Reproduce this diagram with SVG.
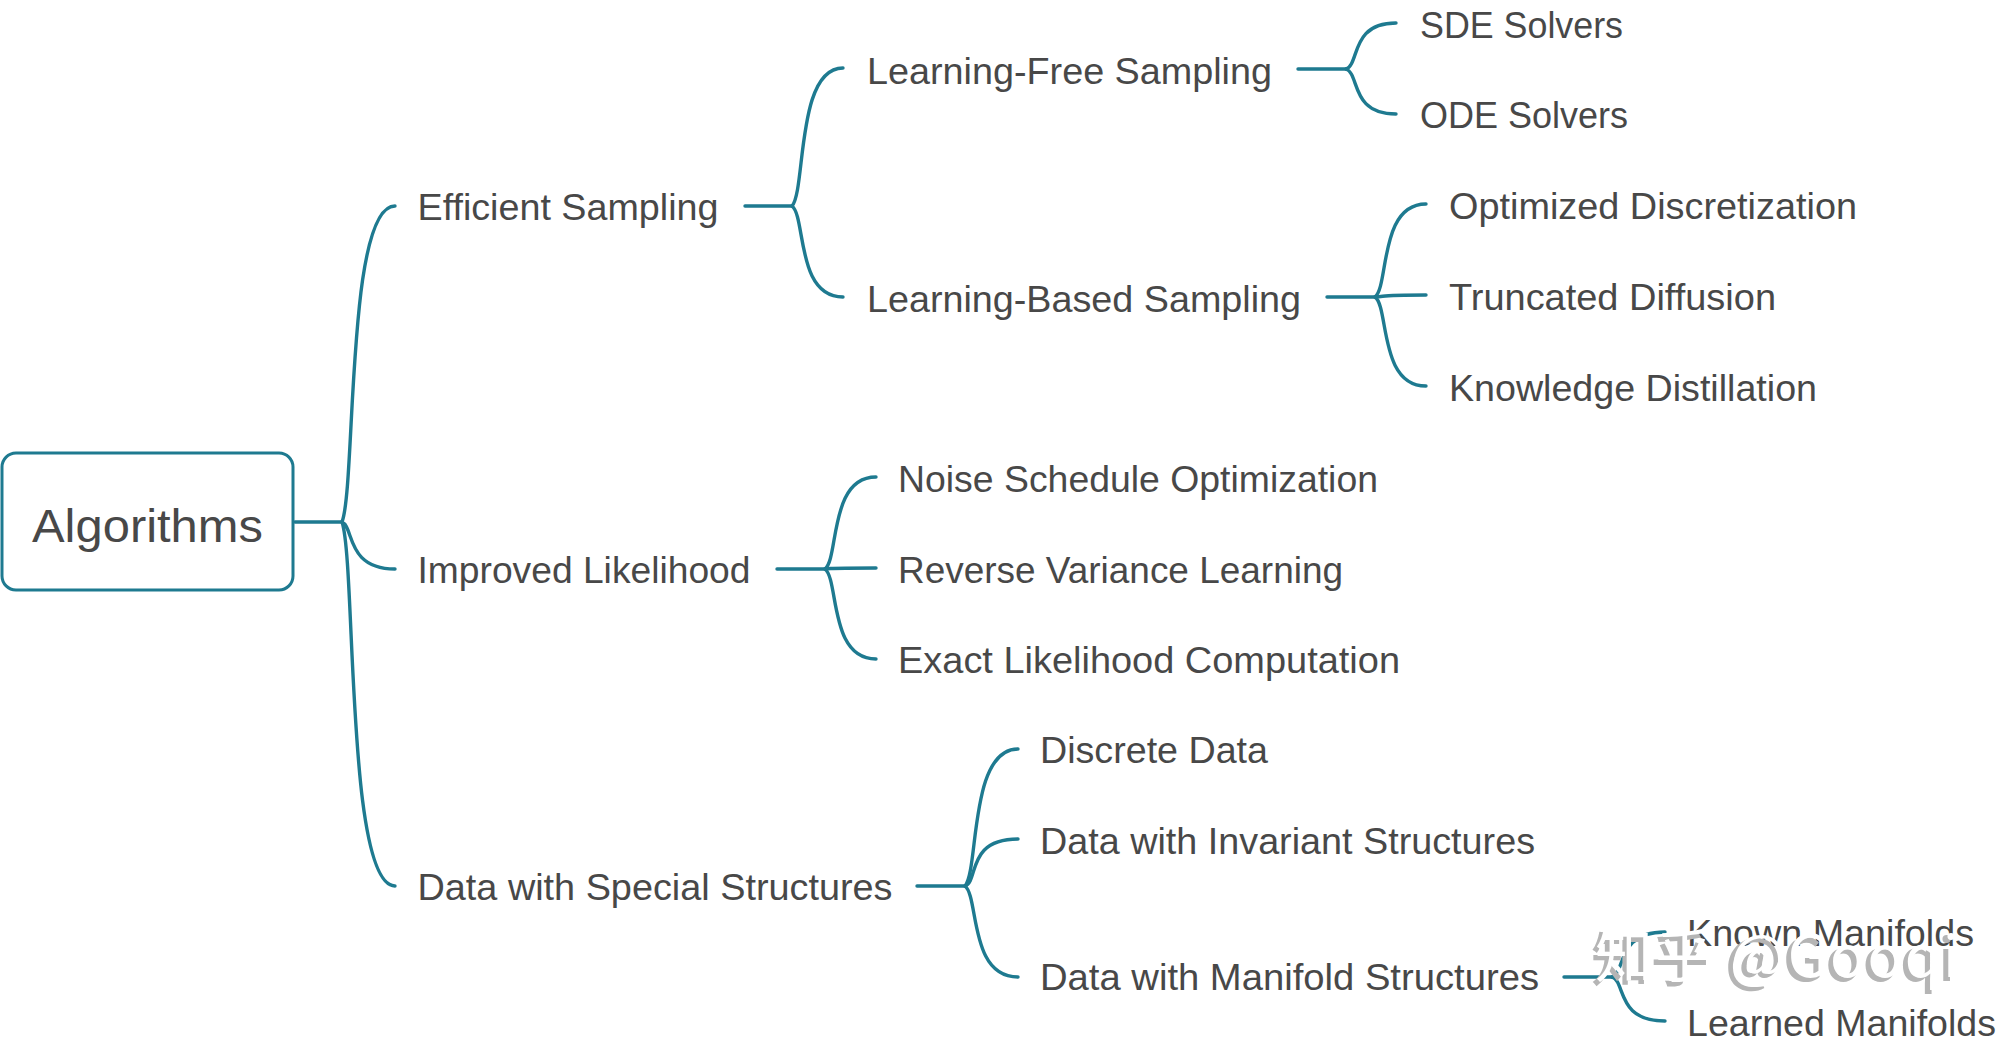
<svg xmlns="http://www.w3.org/2000/svg" width="2004" height="1047" viewBox="0 0 2004 1047">
<style>
.c{fill:none;stroke:#1e7a90;stroke-width:3.4;stroke-linecap:round}
.t{font-family:"Liberation Sans",Arial,sans-serif;font-size:36px;fill:#484848}
.r{font-size:47px}
.w{font-family:"Noto Sans CJK SC","Liberation Sans",sans-serif;font-size:58px}
</style>
<rect width="2004" height="1047" fill="#fff"/>
<g id="connectors">
<path class="c" d="M295 522H342"/>
<path class="c" d="M342 522C356 486 346 206 395 206"/>
<path class="c" d="M342 522C354 527 346 569 395 569"/>
<path class="c" d="M342 522C356 563 346 886 395 886"/>
<path class="c" d="M745 206H792"/>
<path class="c" d="M792 206C806 190 796 68 843 68"/>
<path class="c" d="M792 206C806 217 796 297 843 297"/>
<path class="c" d="M1298 69H1346"/>
<path class="c" d="M1346 69C1360 64 1350 23 1396 23"/>
<path class="c" d="M1346 69C1360 74 1350 114 1396 114"/>
<path class="c" d="M1327 297H1375"/>
<path class="c" d="M1375 297C1389 286 1379 204 1426 204"/>
<path class="c" d="M1375 297C1389 296 1379 295 1426 295"/>
<path class="c" d="M1375 297C1389 307 1379 386 1426 386"/>
<path class="c" d="M777 569H825"/>
<path class="c" d="M825 569C839 558 829 477 876 477"/>
<path class="c" d="M825 569C839 568 829 568 876 568"/>
<path class="c" d="M825 569C839 580 829 659 876 659"/>
<path class="c" d="M917 886H965"/>
<path class="c" d="M965 886C979 870 969 749 1018 749"/>
<path class="c" d="M965 886C979 881 966 839 1018 839"/>
<path class="c" d="M965 886C979 897 969 977 1018 977"/>
<path class="c" d="M1564 977H1612"/>
<path class="c" d="M1612 977C1626 972 1616 932 1665 932"/>
<path class="c" d="M1612 977C1626 982 1616 1021 1665 1021"/>
</g>
<g id="root"><rect x="2" y="453" width="291" height="137" rx="14" fill="#fff" stroke="#1e7a90" stroke-width="3"/><text class="t r" x="32" y="542" textLength="231" lengthAdjust="spacingAndGlyphs">Algorithms</text></g>
<g id="n1"><text class="t" x="417.5" y="220" textLength="301" lengthAdjust="spacingAndGlyphs">Efficient Sampling</text></g>
<g id="n2"><text class="t" x="417.5" y="583" textLength="333" lengthAdjust="spacingAndGlyphs">Improved Likelihood</text></g>
<g id="n3"><text class="t" x="417.5" y="900" textLength="475" lengthAdjust="spacingAndGlyphs">Data with Special Structures</text></g>
<g id="n11"><text class="t" x="867" y="83.5" textLength="405" lengthAdjust="spacingAndGlyphs">Learning-Free Sampling</text></g>
<g id="n12"><text class="t" x="867" y="311.5" textLength="434" lengthAdjust="spacingAndGlyphs">Learning-Based Sampling</text></g>
<g id="n111"><text class="t" x="1420" y="37.5" textLength="203" lengthAdjust="spacingAndGlyphs">SDE Solvers</text></g>
<g id="n112"><text class="t" x="1420" y="128" textLength="208" lengthAdjust="spacingAndGlyphs">ODE Solvers</text></g>
<g id="n121"><text class="t" x="1449" y="219" textLength="408" lengthAdjust="spacingAndGlyphs">Optimized Discretization</text></g>
<g id="n122"><text class="t" x="1449" y="310" textLength="327" lengthAdjust="spacingAndGlyphs">Truncated Diffusion</text></g>
<g id="n123"><text class="t" x="1449" y="400.5" textLength="368" lengthAdjust="spacingAndGlyphs">Knowledge Distillation</text></g>
<g id="n21"><text class="t" x="898" y="492" textLength="480" lengthAdjust="spacingAndGlyphs">Noise Schedule Optimization</text></g>
<g id="n22"><text class="t" x="898" y="583" textLength="445" lengthAdjust="spacingAndGlyphs">Reverse Variance Learning</text></g>
<g id="n23"><text class="t" x="898" y="673" textLength="502" lengthAdjust="spacingAndGlyphs">Exact Likelihood Computation</text></g>
<g id="n31"><text class="t" x="1040" y="763" textLength="228" lengthAdjust="spacingAndGlyphs">Discrete Data</text></g>
<g id="n32"><text class="t" x="1040" y="854" textLength="495" lengthAdjust="spacingAndGlyphs">Data with Invariant Structures</text></g>
<g id="n33"><text class="t" x="1040" y="990" textLength="499" lengthAdjust="spacingAndGlyphs">Data with Manifold Structures</text></g>
<g id="n331"><text class="t" x="1687" y="946" textLength="287" lengthAdjust="spacingAndGlyphs">Known Manifolds</text></g>
<g id="n332"><text class="t" x="1687" y="1036" textLength="309" lengthAdjust="spacingAndGlyphs">Learned Manifolds</text></g>
<g id="watermark"><text class="w" x="1591" y="981" font-weight="500" fill="#b5b5b5" textLength="364" lengthAdjust="spacing">知乎 @Gooqi</text><text class="w" x="1595" y="977" fill="#fff" textLength="364" lengthAdjust="spacing">知乎 @Gooqi</text></g>
</svg>
